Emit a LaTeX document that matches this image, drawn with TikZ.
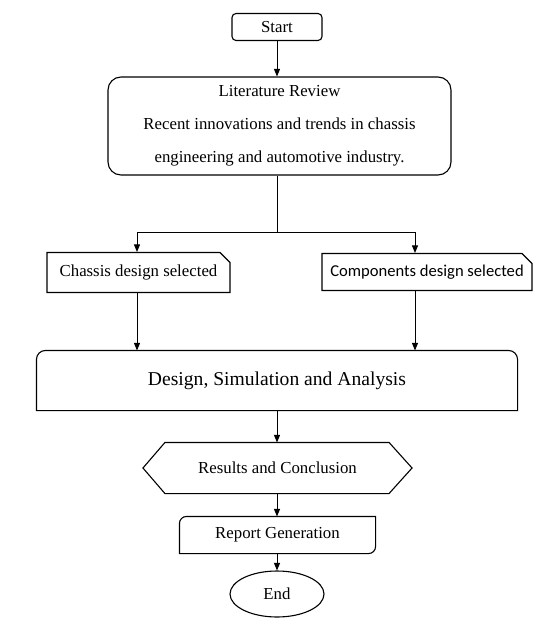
\documentclass[tikz,border=0pt]{standalone}
\usepackage{fontspec}
\setmainfont{Liberation Serif}
\newfontfamily\calib{Carlito}
\usetikzlibrary{arrows.meta,shapes.misc,shapes.geometric}
\begin{document}
\begin{tikzpicture}[x=1pt,y=-1pt,
  line width=1.1pt,
  txt/.style={font=\fontsize{16.8}{19}\selectfont, inner sep=0pt},
  box/.style={txt, draw, rectangle},
  snip/.style={txt, draw, chamfered rectangle, chamfered rectangle corners=north east,
    chamfered rectangle xsep=5pt, chamfered rectangle ysep=5pt},
  conn/.style={line width=0.85pt},
  arr/.style={conn, -{Triangle[length=7.5pt,width=6pt]}}]
\useasboundingbox (0,0) rectangle (540,626);

\node[box, rounded corners=4pt, minimum width=90pt, minimum height=27pt] (start) at (277,27) {Start};

\node[box, rounded corners=13pt, minimum width=343pt, minimum height=98pt, align=center,
  font=\fontsize{16.8}{33}\selectfont] (lit) at (279.5,126)
  {Literature Review\\Recent innovations and trends in chassis\\engineering and automotive industry.};

\coordinate (j) at (277,232);
\coordinate (jl) at (137,232);
\coordinate (jr) at (415,232);

\node[snip, minimum width=183pt, minimum height=40pt] (cha) at (138.5,272.5) {Chassis design selected};
\node[snip, minimum width=210pt, minimum height=37pt, font=\calib\fontsize{16.6}{19}\selectfont] (com) at (427,272) {Components design selected};

\node[txt, minimum width=480pt, minimum height=59pt, font=\fontsize{19.6}{23}\selectfont] (des) at (277,380.5) {Design, Simulation and Analysis};
\draw (des.south west) [rounded corners=9pt] -- (des.north west) -- (des.north east) [sharp corners] -- (des.south east) -- cycle;

\node[txt, minimum width=268pt, minimum height=50pt] (res) at (277.5,468) {Results and Conclusion};
\draw (res.west) -- ([xshift=22pt]res.north west) -- ([xshift=-23pt]res.north east) -- (res.east)
  -- ([xshift=-23pt]res.south east) -- ([xshift=22pt]res.south west) -- cycle;

\node[txt, minimum width=195pt, minimum height=36pt] (rep) at (277.5,535) {Report Generation};
\draw (rep.north east) [rounded corners=7pt] -- (rep.north west) [sharp corners] -- (rep.south west)
  [rounded corners=7pt] -- (rep.south east) [sharp corners] -- (rep.north east) -- cycle;

\node[txt, draw, ellipse, minimum width=94pt, minimum height=46pt] (end) at (277,594) {End};

\draw[arr] (start.south) -- (start.south |- lit.north);
\draw[conn] (start.south |- lit.south) -- (j);
\draw[conn] (jl) -- (jr);
\draw[arr] (jl) -- (jl |- cha.north);
\draw[arr] (jr) -- (jr |- com.north);
\draw[arr] (jl |- cha.south) -- (jl |- des.north);
\draw[arr] (jr |- com.south) -- (jr |- des.north);
\draw[arr] (des.south -| start) -- (start |- res.north);
\draw[arr] (start |- res.south) -- (start |- rep.north);
\draw[arr] (start |- rep.south) -- (end.north);
\end{tikzpicture}
\end{document}
